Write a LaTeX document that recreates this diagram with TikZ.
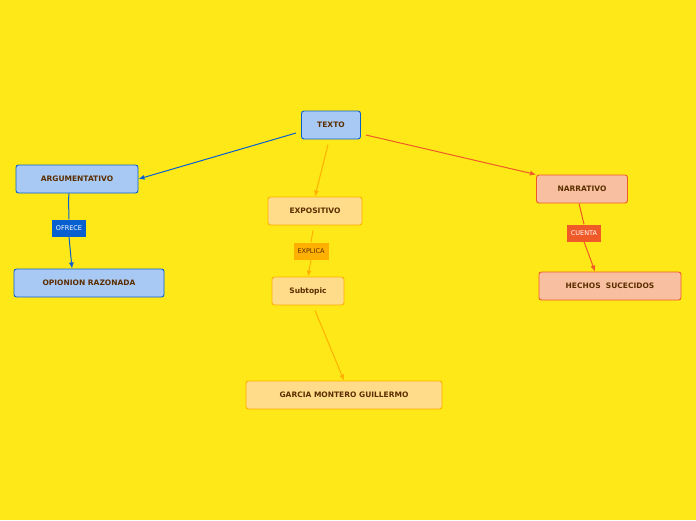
\documentclass[tikz,border=0pt]{standalone}
\usepackage{fontspec}
\setmainfont{DejaVu Sans}
\usetikzlibrary{arrows.meta,calc}
\definecolor{bg}{HTML}{FFE817}
\definecolor{txt}{HTML}{5A2D00}
\definecolor{bluef}{HTML}{A9C9F5}
\definecolor{blued}{HTML}{0860D0}
\definecolor{orf}{HTML}{FFDC8A}
\definecolor{ord}{HTML}{FFB000}
\definecolor{redf}{HTML}{F8C0A0}
\definecolor{redd}{HTML}{F05A28}
\begin{document}
\begin{tikzpicture}[x=1pt,y=-1pt,
  box/.style={draw,rounded corners=2.5pt,line width=0.9pt,minimum height=28pt,inner xsep=8pt,font=\fontsize{7.5}{9}\selectfont\bfseries,text=txt},
  bb/.style={box,fill=bluef,draw=blued},
  ob/.style={box,fill=orf,draw=ord},
  rb/.style={box,fill=redf,draw=redd},
  lab/.style={inner xsep=4pt,minimum height=17pt,font=\fontsize{6.5}{8}\selectfont},
  con/.style={line width=1pt,-{Latex[length=6pt,width=5pt]}}]
\fill[bg] (0,0) rectangle (696,520);
\node[bb,minimum width=59pt] (t) at (331,125) {TEXTO};
\node[bb,minimum width=122pt] (a) at (77,179) {ARGUMENTATIVO};
\node[bb,minimum width=150pt] (o) at (89,283) {OPIONION RAZONADA};
\node[ob,minimum width=94pt] (e) at (315,211) {EXPOSITIVO};
\node[ob,minimum width=72pt] (s) at (308,291) {Subtopic};
\node[ob,minimum width=196pt] (g) at (344,395) {GARCIA MONTERO GUILLERMO};
\node[rb,minimum width=91pt] (n) at (582,189) {NARRATIVO};
\node[rb,minimum width=142pt] (h) at (610,286) {HECHOS\ \ SUCECIDOS};
\node[lab,fill=blued,text=white] (l1) at (69,228) {OFRECE};
\node[lab,fill=ord,text=txt] (l2) at (311,251) {EXPLICA};
\node[lab,fill=redd,text=white] (l3) at (584,233) {CUENTA};
\draw[con,blued] ($(t.west)+(-5,8)$) -- (a.east);
\draw[con,redd] ($(t.east)+(5,10)$) -- (n.north west);
\draw[con,ord] ($(t.south)+(-3,5)$) -- (e.north);
\draw[blued,line width=1pt] (a.south -| l1) to[out=-95,in=90] (l1.north);
\draw[con,blued] (l1.south) -- ($(o.north)+(-17,0)$);
\draw[ord,line width=1pt] ($(e.south)+(-2,5)$) -- (l2.north);
\draw[con,ord] (l2.south) -- (s.north);
\draw[con,ord] ($(s.south)+(7,5)$) -- (g.north);
\draw[redd,line width=1pt] ($(n.south)+(-3,0)$) -- (l3.north);
\draw[con,redd] (l3.south) -- ($(h.north)+(-15,0)$);
\end{tikzpicture}
\end{document}
